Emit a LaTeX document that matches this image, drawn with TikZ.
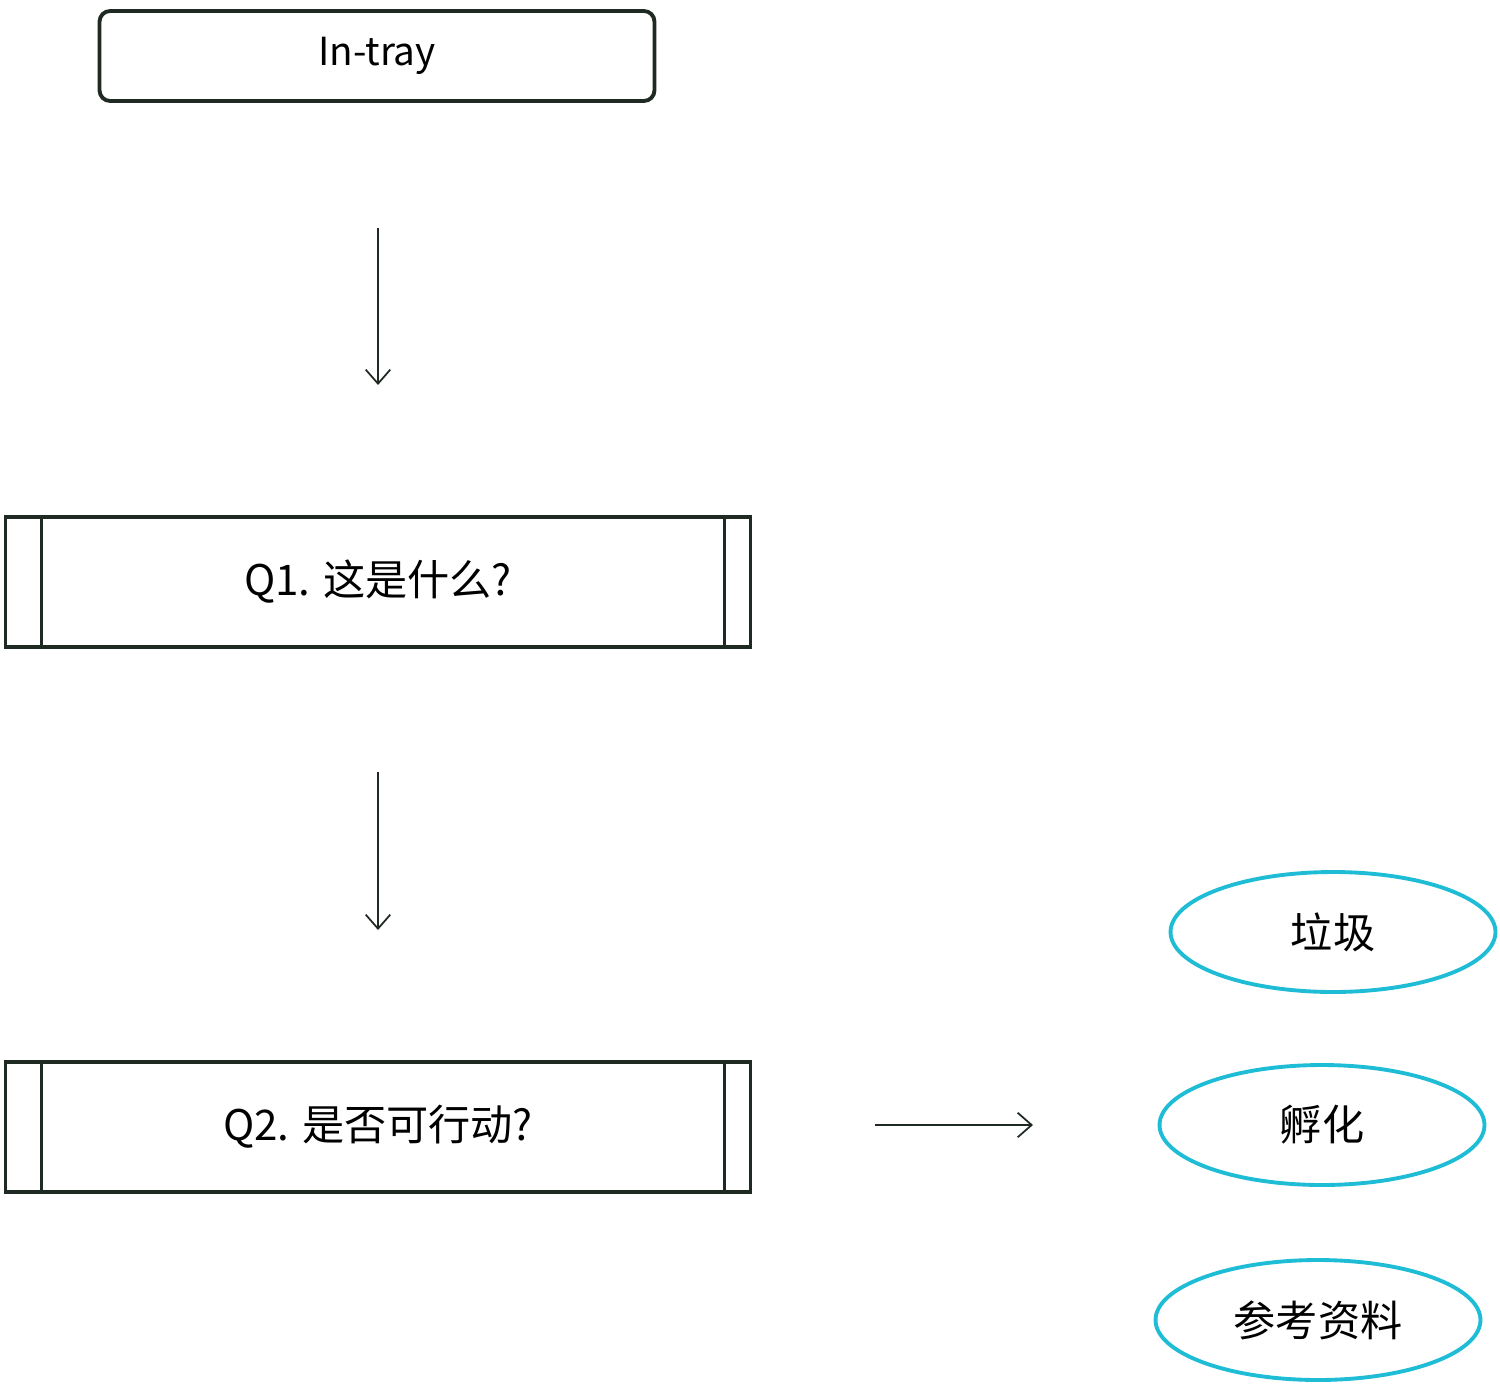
\documentclass[tikz,border=0pt]{standalone}
\usepackage{fontspec}
\setmainfont{Noto Sans CJK SC}
\usetikzlibrary{shapes.geometric,arrows.meta}
\definecolor{ink}{HTML}{1E2A22}
\definecolor{cy}{HTML}{1FBCD6}
\begin{document}
\begin{tikzpicture}[x=0.02cm,y=-0.02cm,
  box/.style={draw=ink,line width=2.2pt,rounded corners=6pt,minimum width=11.1cm,minimum height=1.8cm,font=\fontsize{22}{26}\selectfont},
  proc/.style={draw=ink,line width=2pt,minimum width=14.9cm,minimum height=2.6cm,font=\fontsize{24}{28}\selectfont},
  oval/.style={ellipse,draw=cy,line width=2.2pt,minimum width=6.5cm,minimum height=2.4cm,font=\fontsize{24}{28}\selectfont},
  arr/.style={-{Straight Barb[length=8pt,width=14pt]},draw=ink,line width=1pt}]
\useasboundingbox (0,0) rectangle (1500,1392);
\node[box] (in) at (377,56) {In-tray};
\node[proc] (q1) at (378,582) {Q1. 这是什么?};
\draw[ink,line width=2pt] ([xshift=0.75cm]q1.north west) -- ([xshift=0.75cm]q1.south west)
  ([xshift=-0.55cm]q1.north east) -- ([xshift=-0.55cm]q1.south east);
\node[proc] (q2) at (378,1127) {Q2. 是否可行动?};
\draw[ink,line width=2pt] ([xshift=0.75cm]q2.north west) -- ([xshift=0.75cm]q2.south west)
  ([xshift=-0.55cm]q2.north east) -- ([xshift=-0.55cm]q2.south east);
\coordinate (a1s) at (378,228); \coordinate (a1e) at (378,385);
\coordinate (a2s) at (378,772); \coordinate (a2e) at (378,930);
\coordinate (a3s) at (875,1125); \coordinate (a3e) at (1033,1125);
\draw[arr] (a1s) -- (a1e);
\draw[arr] (a2s) -- (a2e);
\draw[arr] (a3s) -- (a3e);
\node[oval] (t) at (1333,932) {垃圾};
\node[oval] (h) at (1322,1125) {孵化};
\node[oval] (r) at (1318,1320) {参考资料};
\end{tikzpicture}
\end{document}
